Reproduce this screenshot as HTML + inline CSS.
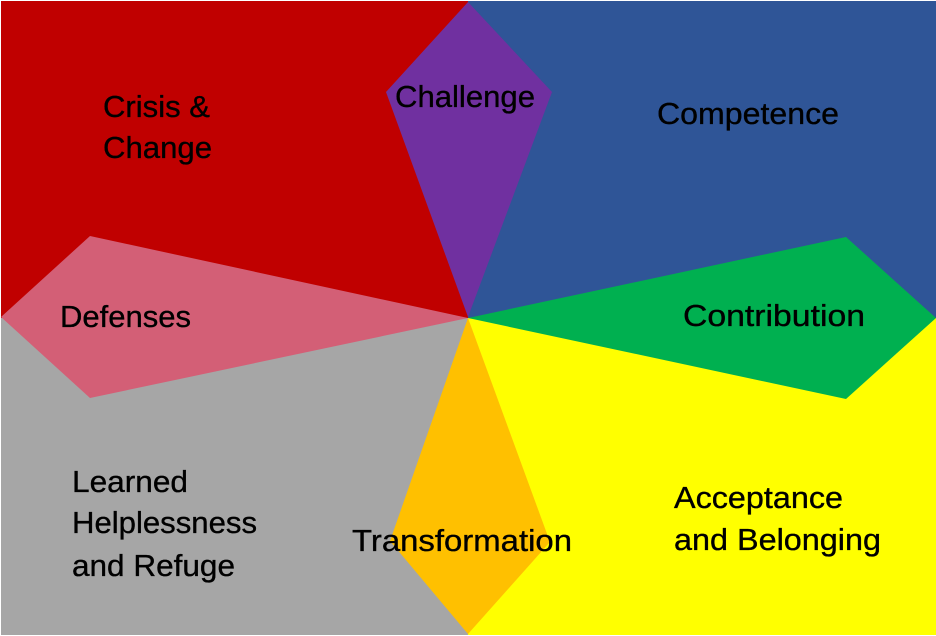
<!DOCTYPE html>
<html>
<head>
<meta charset="utf-8">
<style>
  html,body{margin:0;padding:0;background:#fff;}
  svg{display:block;}
  text{font-family:"Liberation Sans", sans-serif;font-size:31px;fill:#000;stroke:#000;stroke-width:0.35px;}
</style>
</head>
<body>
<svg width="936" height="636" viewBox="0 0 936 636" xmlns="http://www.w3.org/2000/svg">
  <rect x="0" y="0" width="936" height="636" fill="#ffffff"/>
  <!-- quadrants -->
  <rect x="1" y="1" width="467" height="317" fill="#C00000"/>
  <rect x="468" y="1" width="468" height="317" fill="#2F5597"/>
  <rect x="1" y="318" width="467" height="317" fill="#A6A6A6"/>
  <rect x="468" y="318" width="468" height="317" fill="#FFFF00"/>
  <!-- kites / arrows -->
  <polygon points="468,2 386,92 468,317 552,92" fill="#7030A0"/>
  <polygon points="1,317 90,236 468,318 90,398" fill="#D35F76"/>
  <polygon points="468,318 846,237 936,318 846,399" fill="#00B050"/>
  <polygon points="468,318 390,541 468,634 550,542" fill="#FFC000"/>

  <!-- labels -->
  <text x="103" y="117" textLength="107" lengthAdjust="spacingAndGlyphs">Crisis &amp;</text>
  <text x="103" y="158" textLength="109" lengthAdjust="spacingAndGlyphs">Change</text>
  <text x="395" y="107" textLength="140" lengthAdjust="spacingAndGlyphs">Challenge</text>
  <text x="657" y="124" textLength="182" lengthAdjust="spacingAndGlyphs">Competence</text>
  <text x="60" y="327" textLength="131" lengthAdjust="spacingAndGlyphs">Defenses</text>
  <text x="683" y="326" textLength="182" lengthAdjust="spacingAndGlyphs">Contribution</text>
  <text x="72" y="492" textLength="116" lengthAdjust="spacingAndGlyphs">Learned</text>
  <text x="72" y="533" textLength="185" lengthAdjust="spacingAndGlyphs">Helplessness</text>
  <text x="72" y="576" textLength="163" lengthAdjust="spacingAndGlyphs">and Refuge</text>
  <text x="352" y="551" textLength="220" lengthAdjust="spacingAndGlyphs">Transformation</text>
  <text x="674" y="508" textLength="169" lengthAdjust="spacingAndGlyphs">Acceptance</text>
  <text x="674" y="550" textLength="207" lengthAdjust="spacingAndGlyphs">and Belonging</text>
</svg>
</body>
</html>
